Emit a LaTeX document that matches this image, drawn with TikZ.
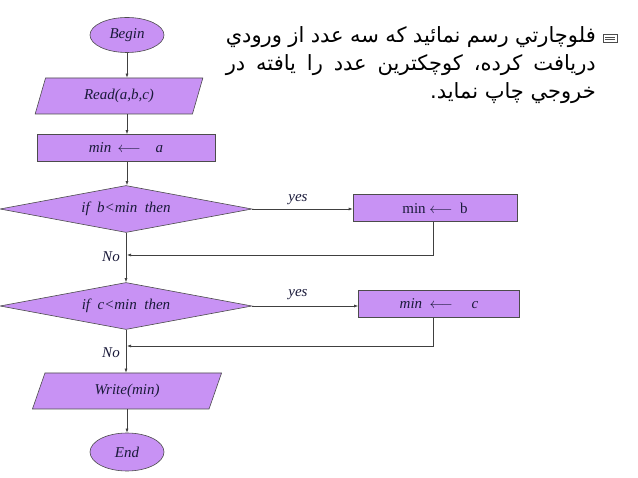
\documentclass[tikz,border=0pt]{standalone}
\usepackage{fontspec}
\setmainfont{Liberation Serif}
\newfontfamily\arabicfont[Script=Arabic]{DejaVu Sans}
\TeXXeTstate=1
\usetikzlibrary{shapes.geometric,arrows.meta}
\definecolor{pfill}{HTML}{C892F4}
\definecolor{txt}{HTML}{1A1A3A}
\newcommand{\rline}[1]{\hbox to 370pt{\beginR #1\endR}}
\begin{document}
\begin{tikzpicture}[x=1pt,y=-1pt,
  base/.style={draw=black!70,fill=pfill,text=txt,font=\itshape\fontsize{15}{17}\selectfont,inner sep=0pt,line width=0.6pt},
  term/.style={base,ellipse,minimum width=74pt,minimum height=35pt},
  io/.style={base,trapezium,trapezium left angle=70,trapezium right angle=110,minimum height=36pt,minimum width=168pt,trapezium stretches=true},
  proc/.style={base,rectangle,minimum height=27pt},
  dec/.style={base,diamond,aspect=5.3,minimum width=252pt,minimum height=47pt,shape aspect=5.3},
  arr/.style={-{Latex[length=4pt,width=3pt]},line width=0.6pt,black!75},
  lbl/.style={font=\itshape\fontsize{15}{17}\selectfont,text=txt}]
\useasboundingbox (0,0) rectangle (638,478);
\fill[white] (0,0) rectangle (638,478);
\node[term] (begin) at (127,35) {Begin};
\node[io,minimum width=168pt] (read) at (119,96) {Read(a,b,c)};
\node[proc,minimum width=178pt] (mina) at (126,148) {min \,$\longleftarrow$\quad a};
\node[dec] (d1) at (126,209) {if\enspace b<min\enspace then};
\node[proc,minimum width=164pt,font=\fontsize{15}{17}\selectfont] (minb) at (435,208) {min $\longleftarrow$\ \ b};
\node[dec] (d2) at (126,306) {if\enspace c<min\enspace then};
\node[proc,minimum width=161pt] (minc) at (439,304) {min \ $\longleftarrow$\quad\ c};
\node[io,minimum width=190pt] (write) at (127,391) {Write(min)};
\node[term,minimum height=38pt] (end) at (127,452) {End};
\coordinate (j1) at (127,255);
\coordinate (j2) at (127,346);
\coordinate (r1) at (433,255);
\coordinate (r2) at (433,346);
\draw[arr] (begin.south) -- (begin.south |- read.north);
\draw[arr] (begin.south |- read.south) -- (begin.south |- mina.north);
\draw[arr] (begin.south |- mina.south) -- (begin.south |- d1.north);
\draw[arr] (d1.south) -- (d2.north);
\draw[arr] (d2.south) -- (write.north -| d2.south);
\draw[arr] (write.south -| end.north) -- (end.north);
\draw[arr] (d1.east) -- (minb.west |- d1.east);
\draw[arr] (d2.east) -- (minc.west |- d2.east);
\draw[arr] (minb.south -| r1) -- (r1) -- (j1);
\draw[arr] (minc.south -| r2) -- (r2) -- (j2);
\node[lbl] (y1) at (298,200) {yes};
\node[lbl] (y2) at (298,295) {yes};
\node[lbl] (n1) at (111,257) {No};
\node[lbl] (n2) at (111,353) {No};
\node[font=\arabicfont\fontsize{21}{28}\selectfont,anchor=north east,align=right,text=black,inner sep=0pt] (title) at (596,26)
 {\rline{فلوچارتي رسم نمائيد كه سه عدد از ورودي}\\
  \rline{دريافت كرده، كوچكترين عدد را يافته در}\\
  \beginR خروجي چاپ نمايد.\endR};
\draw[black!70,line width=0.5pt] (603,34) rectangle (617,42);
\draw[black!70,line width=0.4pt] (605,37) -- (615,37) (605,39.5) -- (615,39.5);
\end{tikzpicture}
\end{document}
